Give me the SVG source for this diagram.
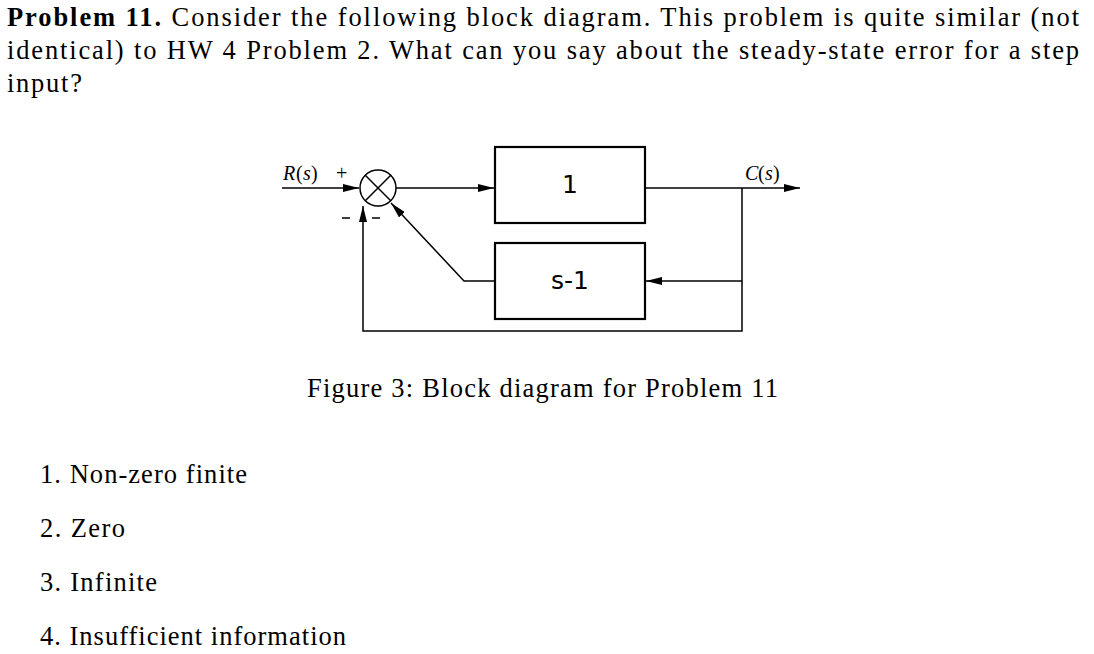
<svg xmlns="http://www.w3.org/2000/svg" width="1094" height="654" viewBox="0 0 1094 654">
<style>
.t{font-family:"Liberation Serif",serif;font-size:26.5px;fill:#000}
.i{font-family:"Liberation Serif",serif;font-size:20px;font-style:italic}
.p{font-family:"Liberation Serif",serif;font-size:20px}
.b{font-family:"DejaVu Sans",sans-serif;font-size:25px}
.l{stroke:#000;stroke-width:1.5;fill:none}
.box{stroke:#000;stroke-width:2.2;fill:#fff}
</style>
<defs><marker id="a" viewBox="0 0 10 10" refX="10" refY="5" markerWidth="16" markerHeight="8" markerUnits="userSpaceOnUse" orient="auto" preserveAspectRatio="none"><path d="M0,0L10,5L0,10z"/></marker></defs>
<rect width="1094" height="654" fill="#fff"/>
<text class="t" x="7" y="26" textLength="1072" lengthAdjust="spacing"><tspan font-weight="bold">Problem 11.</tspan> Consider the following block diagram. This problem is quite similar (not</text>
<text class="t" x="7" y="59" textLength="1072" lengthAdjust="spacing">identical) to HW 4 Problem 2. What can you say about the steady-state error for a step</text>
<text class="t" x="7" y="92" textLength="75">input?</text>
<g id="connectors">
<path class="l" d="M282,188H359" marker-end="url(#a)"/>
<path class="l" d="M396,188H494" marker-end="url(#a)"/>
<path class="l" d="M645,188H800" marker-end="url(#a)"/>
<path class="l" d="M742,188V331H363V206" marker-end="url(#a)"/>
<path class="l" d="M742,281H646" marker-end="url(#a)"/>
<path class="l" d="M495,281H464L391,203" marker-end="url(#a)"/>
</g>
<g id="sum"><circle cx="378" cy="188" r="18" class="l" stroke-width="1.8"/><path class="l" d="M365,175L391,201M391,175L365,201"/>
<text class="p" x="336" y="180">+</text>
<path class="l" d="M342,218h8M372,218h8"/></g>
<g id="in"><text class="i" x="283" y="180">R</text><text class="p" x="296" y="180">(</text><text class="i" x="303" y="180">s</text><text class="p" x="311" y="180">)</text></g>
<g id="out"><text class="i" x="745" y="180">C</text><text class="p" x="758" y="180">(</text><text class="i" x="765" y="180">s</text><text class="p" x="773" y="180">)</text></g>
<g id="g1"><rect class="box" x="495" y="147" width="150" height="76"/><text class="b" x="570" y="193" text-anchor="middle">1</text></g>
<g id="g2"><rect class="box" x="495" y="243" width="150" height="76"/><text class="b" x="570" y="289" text-anchor="middle">s-1</text></g>
<text class="t" x="307" y="397" textLength="471">Figure 3: Block diagram for Problem 11</text>
<text class="t" x="40" y="483" textLength="207">1. Non-zero finite</text>
<text class="t" x="40" y="537" textLength="85">2. Zero</text>
<text class="t" x="40" y="591" textLength="117">3. Infinite</text>
<text class="t" x="40" y="645" textLength="306">4. Insufficient information</text>
</svg>
